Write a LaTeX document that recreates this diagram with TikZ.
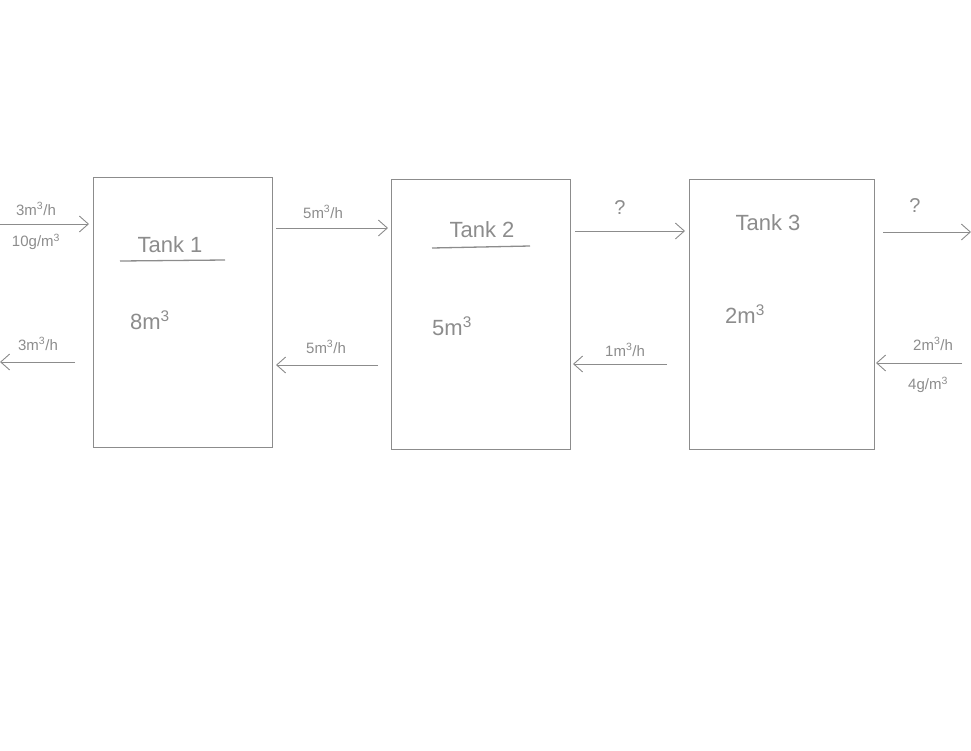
\documentclass[tikz,border=0pt]{standalone}
\usepackage{fontspec}
\setmainfont{Liberation Sans}
\usetikzlibrary{arrows.meta}
\definecolor{pencil}{gray}{0.55}
\newcommand{\cub}{\textsuperscript{3}}
\begin{document}
\begin{tikzpicture}[x=1pt,y=-1pt,
  tank/.style={draw=pencil, line width=1pt, minimum width=#1, inner sep=0pt, minimum height=270pt},
  flow/.style={draw=pencil, line width=0.9pt, -{Straight Barb[length=9pt,width=16pt,line width=0.9pt]}},
  lbl/.style={text=pencil, font=\fontsize{15}{17}\selectfont, inner sep=1pt},
  big/.style={text=pencil, font=\fontsize{22}{24}\selectfont, inner sep=1pt},
  uline/.style={draw=pencil, line width=1.3pt}]
\useasboundingbox (0,0) rectangle (971,750);
% tanks
\node[tank=179pt] (t1) at (182.5,312.5) {};
\node[tank=179pt] (t2) at (480.5,314) {};
\node[tank=185pt] (t3) at (781.5,314) {};
% tank labels
\node[big] (n1) at (170,245) {Tank 1};
\draw[uline] (120,261) -- (225,260);
\node[big] (v1) at (150,320) {8m\cub};
\node[big] (n2) at (482,230) {Tank 2};
\draw[uline] (432,248) -- (530,246);
\node[big] (v2) at (452,326) {5m\cub};
\node[big] (n3) at (768,223) {Tank 3};
\node[big] (v3) at (745,314) {2m\cub};
% flow end points
\coordinate (a0) at (0,224);   \coordinate (a1) at (89,224);
\coordinate (b0) at (75,362);  \coordinate (b1) at (0,362);
\coordinate (c0) at (276,228); \coordinate (c1) at (388,228);
\coordinate (d0) at (378,365); \coordinate (d1) at (276,365);
\coordinate (e0) at (575,231); \coordinate (e1) at (685,231);
\coordinate (f0) at (667,364); \coordinate (f1) at (573,364);
\coordinate (g0) at (883,232); \coordinate (g1) at (971,232);
\coordinate (h0) at (962,363); \coordinate (h1) at (876,363);
% flows
\draw[flow] (a0) -- (a1);
\draw[flow] (b0) -- (b1);
\draw[flow] (c0) -- (c1);
\draw[flow] (d0) -- (d1);
\draw[flow] (e0) -- (e1);
\draw[flow] (f0) -- (f1);
\draw[flow] (g0) -- (g1);
\draw[flow] (h0) -- (h1);
% flow labels
\node[lbl] (la) at (36,209) {3m\cub/h};
\node[lbl] (la2) at (36,242) {10g/m\cub};
\node[lbl] (lb) at (38,344) {3m\cub/h};
\node[lbl] (lc) at (323,212) {5m\cub/h};
\node[lbl] (ld) at (326,347) {5m\cub/h};
\node[lbl, font=\fontsize{20}{22}\selectfont] (le) at (620,208) {?};
\node[lbl] (lf) at (625,350) {1m\cub/h};
\node[lbl, font=\fontsize{20}{22}\selectfont] (lg) at (915,206) {?};
\node[lbl] (lh) at (933,344) {2m\cub/h};
\node[lbl] (lh2) at (928,385) {4g/m\cub};
\end{tikzpicture}
\end{document}
